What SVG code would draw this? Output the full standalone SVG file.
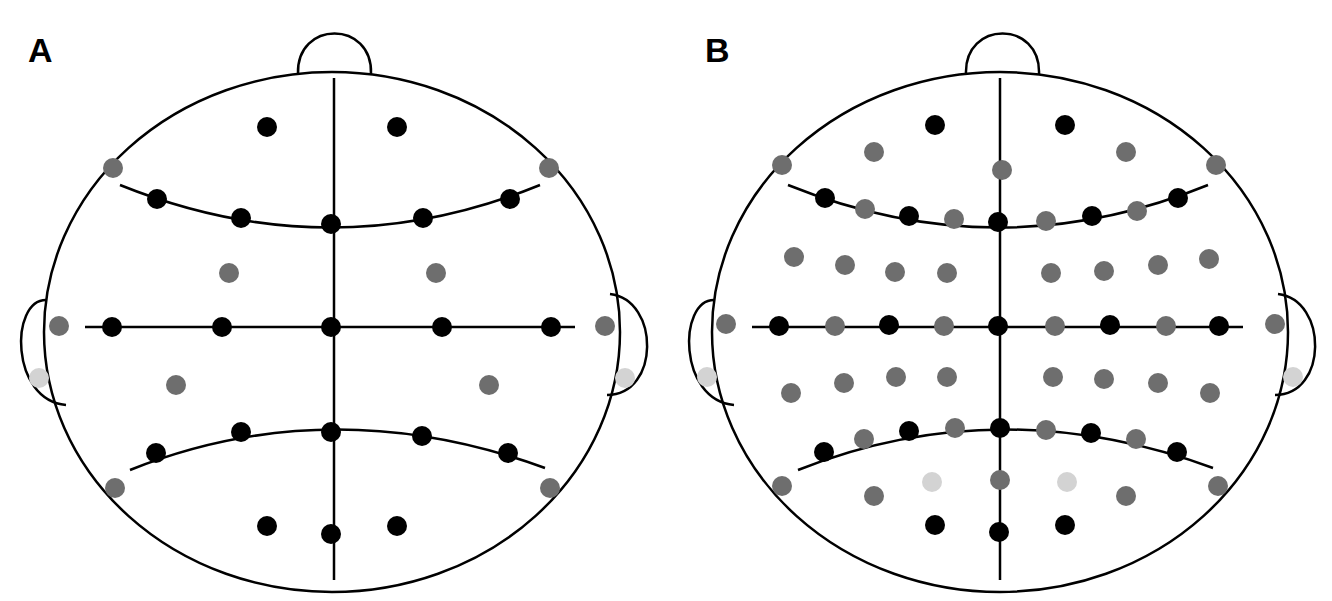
<svg xmlns="http://www.w3.org/2000/svg" width="1332" height="601" viewBox="0 0 1332 601">
<style>
.l{fill:none;stroke:#000;stroke-width:2.5}
.k{fill:#000}.g{fill:#6e6e6e}.w{fill:#d3d3d3}
text{font-family:"Liberation Sans",Arial,sans-serif;font-weight:bold;font-size:34px}
</style>
<rect width="1332" height="601" fill="#fff"/>
<text x="28" y="62">A</text>
<text x="705" y="62">B</text>
<g id="headA">
<path class="l" d="M298,74 C296,20 373,20 371,74"/>
<path class="l" d="M46,300 C10,300 10,400 66,405"/>
<path class="l" d="M610,294 C660,300 660,395 607,395"/>
<ellipse class="l" cx="332" cy="332" rx="288" ry="260"/>
<line class="l" x1="334" y1="78" x2="334" y2="580"/>
<line class="l" x1="85" y1="327" x2="575" y2="327"/>
<path class="l" d="M120,185 Q331,270 540,185"/>
<path class="l" d="M130,470 Q331,390 545,468"/>
<g class="k">
<ellipse cx="267" cy="127" rx="10" ry="10"/><ellipse cx="397" cy="127" rx="10" ry="10"/>
<ellipse cx="157" cy="199" rx="10" ry="10"/><ellipse cx="241" cy="218" rx="10" ry="10"/><ellipse cx="331" cy="224" rx="10" ry="10"/><ellipse cx="423" cy="218" rx="10" ry="10"/><ellipse cx="510" cy="199" rx="10" ry="10"/>
<ellipse cx="112" cy="327" rx="10" ry="10"/><ellipse cx="222" cy="327" rx="10" ry="10"/><ellipse cx="331" cy="327" rx="10" ry="10"/><ellipse cx="442" cy="327" rx="10" ry="10"/><ellipse cx="551" cy="327" rx="10" ry="10"/>
<ellipse cx="241" cy="432" rx="10" ry="10"/><ellipse cx="331" cy="432" rx="10" ry="10"/><ellipse cx="422" cy="436" rx="10" ry="10"/><ellipse cx="156" cy="453" rx="10" ry="10"/><ellipse cx="508" cy="453" rx="10" ry="10"/>
<ellipse cx="267" cy="526" rx="10" ry="10"/><ellipse cx="331" cy="534" rx="10" ry="10"/><ellipse cx="397" cy="526" rx="10" ry="10"/>
</g>
<g class="g">
<ellipse cx="113" cy="168" rx="10" ry="10"/><ellipse cx="549" cy="168" rx="10" ry="10"/><ellipse cx="229" cy="273" rx="10" ry="10"/><ellipse cx="436" cy="273" rx="10" ry="10"/>
<ellipse cx="59" cy="326" rx="10" ry="10"/><ellipse cx="605" cy="326" rx="10" ry="10"/><ellipse cx="176" cy="385" rx="10" ry="10"/><ellipse cx="489" cy="385" rx="10" ry="10"/>
<ellipse cx="115" cy="488" rx="10" ry="10"/><ellipse cx="550" cy="488" rx="10" ry="10"/>
</g>
<g class="w"><ellipse cx="39" cy="378" rx="10" ry="10"/><ellipse cx="625" cy="378" rx="10" ry="10"/></g>
</g>
<g id="headB">
<path class="l" d="M966,74 C964,20 1041,20 1039,74"/>
<path class="l" d="M714,300 C678,300 678,400 734,405"/>
<path class="l" d="M1278,294 C1328,300 1328,395 1275,395"/>
<ellipse class="l" cx="1000" cy="332" rx="288" ry="260"/>
<line class="l" x1="1000" y1="78" x2="1000" y2="580"/>
<line class="l" x1="752" y1="327" x2="1243" y2="327"/>
<path class="l" d="M788,185 Q999,270 1208,185"/>
<path class="l" d="M798,470 Q999,390 1213,468"/>
<g class="k">
<ellipse cx="935" cy="125" rx="10" ry="10"/><ellipse cx="1065" cy="125" rx="10" ry="10"/>
<ellipse cx="825" cy="198" rx="10" ry="10"/><ellipse cx="909" cy="216" rx="10" ry="10"/><ellipse cx="998" cy="222" rx="10" ry="10"/><ellipse cx="1092" cy="216" rx="10" ry="10"/><ellipse cx="1178" cy="198" rx="10" ry="10"/>
<ellipse cx="779" cy="326" rx="10" ry="10"/><ellipse cx="889" cy="325" rx="10" ry="10"/><ellipse cx="998" cy="326" rx="10" ry="10"/><ellipse cx="1110" cy="325" rx="10" ry="10"/><ellipse cx="1219" cy="326" rx="10" ry="10"/>
<ellipse cx="909" cy="431" rx="10" ry="10"/><ellipse cx="1000" cy="428" rx="10" ry="10"/><ellipse cx="1091" cy="433" rx="10" ry="10"/><ellipse cx="824" cy="452" rx="10" ry="10"/><ellipse cx="1177" cy="452" rx="10" ry="10"/>
<ellipse cx="935" cy="525" rx="10" ry="10"/><ellipse cx="999" cy="532" rx="10" ry="10"/><ellipse cx="1065" cy="525" rx="10" ry="10"/>
</g>
<g class="g">
<ellipse cx="782" cy="165" rx="10" ry="10"/><ellipse cx="874" cy="152" rx="10" ry="10"/><ellipse cx="1002" cy="170" rx="10" ry="10"/><ellipse cx="1126" cy="152" rx="10" ry="10"/><ellipse cx="1216" cy="165" rx="10" ry="10"/>
<ellipse cx="865" cy="209" rx="10" ry="10"/><ellipse cx="954" cy="219" rx="10" ry="10"/><ellipse cx="1046" cy="221" rx="10" ry="10"/><ellipse cx="1137" cy="211" rx="10" ry="10"/>
<ellipse cx="794" cy="257" rx="10" ry="10"/><ellipse cx="845" cy="265" rx="10" ry="10"/><ellipse cx="895" cy="272" rx="10" ry="10"/><ellipse cx="947" cy="273" rx="10" ry="10"/><ellipse cx="1051" cy="273" rx="10" ry="10"/><ellipse cx="1104" cy="271" rx="10" ry="10"/><ellipse cx="1158" cy="265" rx="10" ry="10"/><ellipse cx="1209" cy="259" rx="10" ry="10"/>
<ellipse cx="726" cy="324" rx="10" ry="10"/><ellipse cx="835" cy="326" rx="10" ry="10"/><ellipse cx="944" cy="326" rx="10" ry="10"/><ellipse cx="1055" cy="326" rx="10" ry="10"/><ellipse cx="1166" cy="326" rx="10" ry="10"/><ellipse cx="1275" cy="324" rx="10" ry="10"/>
<ellipse cx="791" cy="393" rx="10" ry="10"/><ellipse cx="844" cy="383" rx="10" ry="10"/><ellipse cx="896" cy="377" rx="10" ry="10"/><ellipse cx="947" cy="377" rx="10" ry="10"/><ellipse cx="1053" cy="377" rx="10" ry="10"/><ellipse cx="1104" cy="379" rx="10" ry="10"/><ellipse cx="1158" cy="383" rx="10" ry="10"/><ellipse cx="1210" cy="393" rx="10" ry="10"/>
<ellipse cx="864" cy="439" rx="10" ry="10"/><ellipse cx="955" cy="428" rx="10" ry="10"/><ellipse cx="1046" cy="430" rx="10" ry="10"/><ellipse cx="1136" cy="439" rx="10" ry="10"/>
<ellipse cx="782" cy="486" rx="10" ry="10"/><ellipse cx="874" cy="496" rx="10" ry="10"/><ellipse cx="1000" cy="480" rx="10" ry="10"/><ellipse cx="1126" cy="496" rx="10" ry="10"/><ellipse cx="1218" cy="486" rx="10" ry="10"/>
</g>
<g class="w"><ellipse cx="707" cy="377" rx="10" ry="10"/><ellipse cx="932" cy="482" rx="10" ry="10"/><ellipse cx="1067" cy="482" rx="10" ry="10"/><ellipse cx="1293" cy="377" rx="10" ry="10"/></g>
</g>
</svg>
